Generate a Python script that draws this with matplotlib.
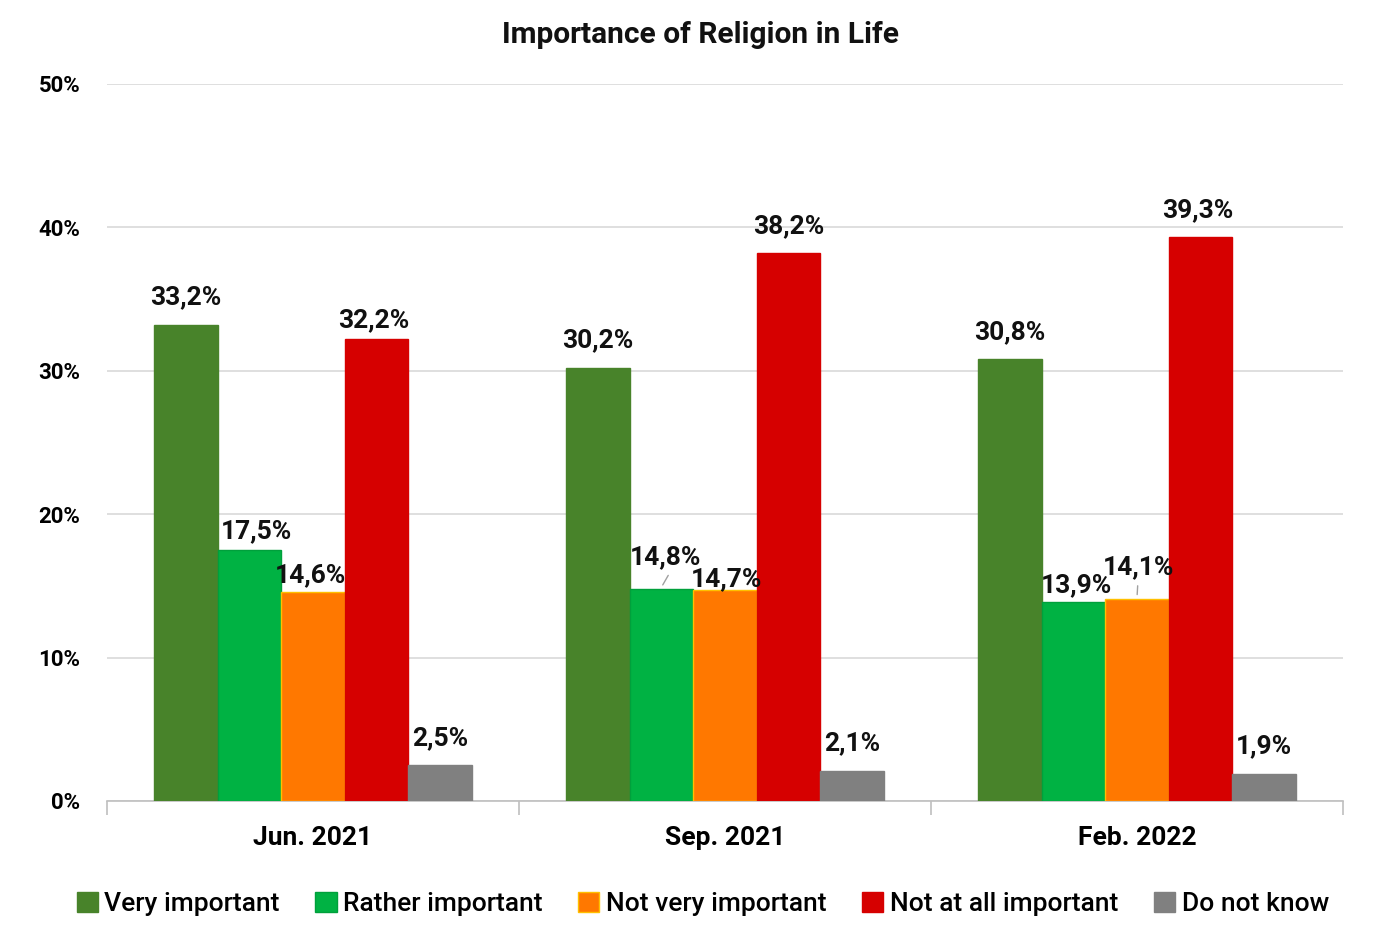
import matplotlib
matplotlib.use("Agg")
import matplotlib.pyplot as plt
from matplotlib.patches import Patch
import numpy as np

plt.rcParams['font.family'] = ['Roboto', 'DejaVu Sans']

periods = ["Jun. 2021", "Sep. 2021", "Feb. 2022"]
series = ["Very important", "Rather important", "Not very important",
          "Not at all important", "Do not know"]
very_important = [33.2, 30.2, 30.8]
rather_important = [17.5, 14.8, 13.9]
not_very_important = [14.6, 14.7, 14.1]
not_at_all_important = [32.2, 38.2, 39.3]
do_not_know = [2.5, 2.1, 1.9]
values = [very_important, rather_important, not_very_important,
          not_at_all_important, do_not_know]

colors = ["#48832A", "#00B243", "#FF7800", "#D60000", "#808080"]
edges = ["#48832A", "#00A03C", "#FFC000", "#D60000", "#808080"]

# label offsets in points (dx, dy) for each series/period
offsets = [
    [(0, 11), (0, 11), (0, 11)],
    [(5, 5), (3, 14), (2, 3)],
    [(-2, 3), (1, -1), (1, 14)],
    [(-2, 5), (0, 11), (-2, 11)],
    [(0, 11), (0, 11), (0, 11)],
]
leader = [[False]*3, [False, True, False], [False, False, True], [False]*3, [False]*3]

fig = plt.figure(figsize=(14, 9.33), dpi=100)
ax = fig.add_axes([0.0764, 0.1415, 0.8829, 0.7685])

x = np.arange(len(periods))
w = 0.1544
n = len(series)
for i, (vals, c, e) in enumerate(zip(values, colors, edges)):
    pos = x + (i - (n - 1) / 2) * w
    ax.bar(pos, vals, width=w, color=c, edgecolor=e, linewidth=1.0, zorder=3)
    for j, (p, v) in enumerate(zip(pos, vals)):
        dx, dy = offsets[i][j]
        txt = f"{v:.1f}%".replace(".", ",")
        ax.annotate(txt, (p, v), xytext=(dx, dy), textcoords="offset points",
                    ha="center", va="bottom", fontsize=19, fontweight="bold",
                    color="#111111", zorder=5)
        if leader[i][j]:
            ax.annotate("", (p, v + 0.1), xytext=(p + (0.02 if i == 1 else 0.002), v + 1.1),
                        arrowprops=dict(arrowstyle="-", color="#A0A0A0", lw=1.0), zorder=4)

ax.set_xlim(-0.5, 2.5)
ax.set_ylim(0, 50)
ax.set_yticks(np.arange(0, 51, 10))
ax.set_yticklabels([f"{t}%" for t in range(0, 51, 10)], fontsize=16, fontweight="bold")
ax.yaxis.grid(True, color="#D9D9D9", linewidth=1.2, zorder=0)
ax.set_axisbelow(True)
ax.tick_params(axis="y", length=0, pad=19)

ax.set_xticks([-0.5, 0.5, 1.5, 2.5])
ax.set_xticklabels([])
ax.tick_params(axis="x", length=10, color="#BFBFBF", width=1.2)
ax.set_xticks(x, minor=True)
ax.set_xticklabels(periods, minor=True, fontsize=19, fontweight="bold")
ax.tick_params(axis="x", which="minor", length=0, pad=18)

for s in ["top", "right", "left"]:
    ax.spines[s].set_visible(False)
ax.spines["bottom"].set_color("#BFBFBF")
ax.spines["bottom"].set_linewidth(1.2)

fig.text(0.5, 0.963, "Importance of Religion in Life", ha="center", va="center",
         fontsize=21.5, fontweight="bold", color="#111111")

handles = [Patch(facecolor=c, edgecolor=e) for c, e in zip(colors, edges)]
fig.legend(handles, series, loc="center", bbox_to_anchor=(0.502, 0.031), ncol=5,
           frameon=False, prop=dict(size=19, weight="medium"), handlelength=0.8,
           handleheight=0.8, handletextpad=0.25, columnspacing=1.35)

fig.savefig("out.png", dpi=100)
